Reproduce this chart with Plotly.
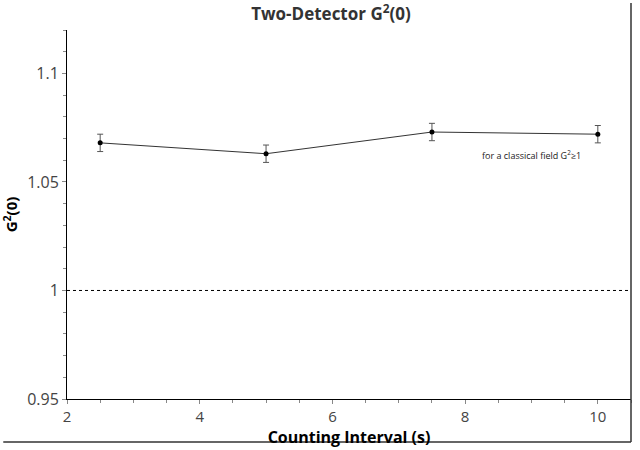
import plotly.graph_objects as go

intervals = [2.5, 5, 7.5, 10]
g2_values = [1.068, 1.063, 1.073, 1.072]
g2_errors = [0.004, 0.004, 0.004, 0.004]
classical_limit = 1.0
x_range = [2, 10.5]
y_range = [0.95, 1.12]
y_ticks = [0.95, 1, 1.05, 1.1]
y_tick_labels = ["0.95", "1", "1.05", "1.1"]
x_ticks = [2, 4, 6, 8, 10]

fig = go.Figure()
fig.add_trace(go.Scatter(
    x=intervals, y=g2_values, mode="lines+markers",
    line=dict(color="#333333", width=1),
    marker=dict(color="black", size=5, symbol="circle"),
    error_y=dict(type="data", array=g2_errors, visible=True,
                 color="#555555", thickness=1, width=3),
    showlegend=False,
))

fig.add_shape(type="line", xref="paper", yref="y", x0=0, x1=1,
              y0=classical_limit, y1=classical_limit,
              line=dict(color="black", width=1, dash="dot"))
# outer frame edges (right and bottom)
fig.add_shape(type="line", xref="paper", yref="paper", x0=1.0, x1=1.0,
              y0=-0.1165, y1=1.073, line=dict(color="#333333", width=1.5))
fig.add_shape(type="line", xref="paper", yref="paper", x0=-0.113, x1=1.0,
              y0=-0.1165, y1=-0.1165, line=dict(color="#333333", width=1.5))

fig.add_annotation(x=9, y=1.0625, xref="x", yref="y",
                   text="for a classical field G<sup>2</sup>≥1",
                   showarrow=False, font=dict(size=9, color="#222222",
                                              family="Open Sans"))

fig.update_layout(
    width=640, height=450,
    margin=dict(l=67, r=9, t=30, b=51),
    paper_bgcolor="white", plot_bgcolor="white",
    font=dict(family="Open Sans", color="#444444"),
    title=dict(text="<b>Two-Detector G<sup>2</sup>(0)</b>", x=331/640,
               xanchor="center", y=1 - 14/450, yref="container",
               yanchor="middle",
               font=dict(size=17, color="#333333", family="Open Sans")),
)
fig.update_xaxes(
    range=x_range, tickvals=x_ticks, showgrid=False, zeroline=False,
    showline=True, linecolor="black", linewidth=1,
    ticks="outside", ticklen=4, tickcolor="#888888",
    tickfont=dict(size=15, color="#444444"),
    minor=dict(dtick=0.5, ticks="outside", ticklen=3, tickcolor="#888888"),
    title=dict(text="<b>Counting Interval (s)</b>", standoff=0,
               font=dict(size=16, color="black")),
)
fig.update_yaxes(
    range=y_range, tickvals=y_ticks, ticktext=y_tick_labels,
    showgrid=False, zeroline=False,
    showline=True, linecolor="black", linewidth=1,
    ticks="outside", ticklen=4, tickcolor="#888888",
    tickfont=dict(size=16, color="#444444"),
    minor=dict(dtick=0.01, tick0=0.95, ticks="outside", ticklen=3,
               tickcolor="#888888"),
    title=dict(text="<b>G<sup>2</sup>(0)</b>", standoff=9,
               font=dict(size=15, color="black")),
)

fig.write_html("out.html", config={"displayModeBar": False},
               post_script="document.body.style.margin='0';")
